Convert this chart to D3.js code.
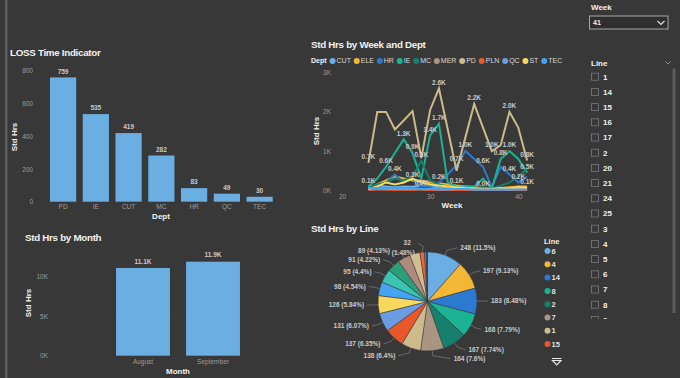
<!DOCTYPE html>
<html><head><meta charset="utf-8">
<script src="https://cdn.jsdelivr.net/npm/d3@7/dist/d3.min.js"></script>
<style>
html,body{margin:0;padding:0;background:#383838;overflow:hidden}
svg{display:block;font-family:"Liberation Sans",Arial,sans-serif}
</style></head><body>
<svg id="c" width="680" height="378"></svg>
<script>
// ---------- DATA ----------
const lossDepts = ["PD","IE","CUT","MC","HR","QC","TEC"];
const lossHours = [759,535,419,282,83,49,30];
const lossTicks = [0,200,400,600,800];

const months = ["August","September"];
const monthHours = [11100,11900];
const monthTicks = [0,5000,10000];

const weeks = [23,24,25,26,27,28,29,30,31,32,33,34,35,36,37,38,39,40,41];
const deptNames = ["CUT","ELE","HR","IE","MC","MER","PD","PLN","QC","ST","TEC"];
const cutHrs = [100,120,100,80,100,90,120,100,80,70,60,50,50,40,40,40,50,60,60];
const eleHrs = [50,150,250,350,300,250,250,200,180,150,120,100,80,60,50,60,80,100,100];
const hrHrs  = [100,120,200,400,200,300,100,100,200,400,650,1000,800,600,80,600,400,200,350];
const ieHrs  = [100,300,600,950,1300,950,300,1400,1700,200,100,100,100,300,50,800,1000,800,450];
const mcHrs  = [50,150,200,300,250,350,750,250,150,100,60,60,50,80,50,120,200,350,550];
const merHrs = [20,30,20,30,20,20,20,10,10,20,10,10,10,10,10,10,10,10,10];
const pdHrs  = [700,2000,2000,1550,1780,2020,820,2050,2600,1550,500,1350,2200,1600,1000,1150,2000,1600,760];
const plnHrs = [10,20,20,10,20,10,30,10,10,10,10,10,10,10,10,10,10,10,10];
const qcHrs  = [40,50,30,30,40,30,30,30,20,20,30,30,20,20,20,20,20,30,30];
const stHrs  = [30,100,200,150,200,300,200,150,120,100,80,60,50,40,40,50,40,80,60];
const tecHrs = [60,50,60,70,50,60,40,30,40,30,30,30,20,20,20,20,20,20,20];
const weekTicks = [20,30,40];
const weekHrsTicks = [0,1000,2000,3000];
// points that carry a data label: [dept, week]
const weekLabelPoints = [["PD",23],["PD",31],["PD",35],["PD",37],["PD",39],["PD",41],
  ["IE",25],["IE",27],["IE",28],["IE",30],["IE",31],["IE",33],["IE",38],["IE",39],["IE",41],
  ["HR",26],["HR",31],["HR",33],["HR",34],["HR",36],["HR",39],["HR",40],
  ["MC",29],["ELE",28],["CUT",23],["TEC",29],["QC",36],["CUT",41]];

const pieLines = ["6","4","14","8","2","7","1","15","16","3","5","9","17","20","21","24","25","18"];
const pieHours = [248,197,183,168,167,164,138,137,131,126,98,95,91,89,72,32,12,9];
const pieLegendCount = 8;
const pieUnlabeled = ["21","25","18"];

const slicerWeek = "41";
const slicerLines = ["1","14","15","16","17","2","20","21","24","25","3","4","5","6","7","8","9"];

// ---------- STYLE ----------
const palette = ["#6aaee4","#f3b733","#2c7ad0","#1cb394","#177f6d","#a99581","#cdbb8c","#e8582a",
                 "#6b9be3","#f8d95d","#45a4f2","#3cc4b3","#2b9e7c","#b08a7d","#cfbe91","#e9692f","#6a8fd8","#2c5c9c"];
const barColor = "#6aaee2";
const tickColor = "#9d9d9d";
const labelColor = "#c9c9c9";
const titleColor = "#f2f2f2";
const gridColor = "#474747";

const svg = d3.select("#c");
svg.append("rect").attr("width",680).attr("height",378).attr("fill","#383838");
svg.append("rect").attr("x",5).attr("y",0).attr("width",2.5).attr("height",378).attr("fill","#5e5e5e");

function title(x,y,t){
  svg.append("text").attr("x",x).attr("y",y).attr("dy","0.35em").attr("fill",titleColor)
    .attr("font-size",9.8).attr("font-weight","bold").attr("letter-spacing",-0.3).text(t);
}
function axisTitle(x,y,t,rot){
  const tx = svg.append("text").attr("fill",titleColor).attr("font-size",8).attr("font-weight","bold")
    .attr("text-anchor","middle").attr("dy","0.35em").text(t);
  if(rot) tx.attr("transform",`translate(${x},${y}) rotate(-90)`); else tx.attr("x",x).attr("y",y);
}
function styleAxis(g){
  g.select(".domain").remove();
  g.selectAll(".tick line").remove();
  g.selectAll("text").attr("fill",tickColor).attr("font-size",6.5).attr("font-family","Liberation Sans, Arial, sans-serif");
}

// ---------- PANEL 1: LOSS Time Indicator ----------
title(10,53,"LOSS Time Indicator");
const x1 = d3.scaleBand().domain(lossDepts).range([46.7,276]).paddingInner(0.2).paddingOuter(0.1);
const y1 = d3.scaleLinear().domain([0,800]).range([201.7,70.7]);
svg.append("g").selectAll("line").data(lossTicks.slice(1)).join("line")
  .attr("x1",38).attr("x2",284).attr("y1",d=>y1(d)).attr("y2",d=>y1(d))
  .attr("stroke",gridColor).attr("stroke-width",0.6).attr("stroke-dasharray","1,1.5");
svg.append("g").attr("transform","translate(33,0)")
  .call(d3.axisLeft(y1).tickValues(lossTicks).tickSize(0).tickPadding(0)).call(styleAxis);
svg.append("g").attr("transform","translate(0,204)")
  .call(d3.axisBottom(x1).tickSize(0).tickPadding(0)).call(styleAxis);
svg.append("g").selectAll("rect").data(lossDepts).join("rect")
  .attr("x",d=>x1(d)).attr("width",x1.bandwidth())
  .attr("y",(d,i)=>y1(lossHours[i])).attr("height",(d,i)=>y1(0)-y1(lossHours[i])).attr("fill",barColor);
svg.append("g").selectAll("text").data(lossDepts).join("text")
  .attr("x",d=>x1(d)+x1.bandwidth()/2).attr("y",(d,i)=>y1(lossHours[i])-6).attr("dy","0.35em")
  .attr("text-anchor","middle").attr("fill",labelColor).attr("font-size",6.5).attr("font-weight","bold")
  .text((d,i)=>lossHours[i]);
axisTitle(14,137,"Std Hrs",true);
axisTitle(161,216,"Dept",false);

// ---------- PANEL 2: Std Hrs by Month ----------
title(25,238,"Std Hrs by Month");
const x2 = d3.scaleBand().domain(months).range([108,248]).paddingInner(0.23).paddingOuter(0.115);
const y2 = d3.scaleLinear().domain([0,10000]).range([355.7,276.7]);
const kfmt = v => (v/1000)+"K";
svg.append("g").selectAll("line").data(monthTicks.slice(1)).join("line")
  .attr("x1",52).attr("x2",285).attr("y1",d=>y2(d)).attr("y2",d=>y2(d))
  .attr("stroke",gridColor).attr("stroke-width",0.6).attr("stroke-dasharray","1,1.5");
svg.append("g").attr("transform","translate(48,0)")
  .call(d3.axisLeft(y2).tickValues(monthTicks).tickFormat(kfmt).tickSize(0).tickPadding(0)).call(styleAxis);
svg.append("g").attr("transform","translate(0,359)")
  .call(d3.axisBottom(x2).tickSize(0).tickPadding(0)).call(styleAxis);
svg.append("g").selectAll("rect").data(months).join("rect")
  .attr("x",d=>x2(d)).attr("width",x2.bandwidth())
  .attr("y",(d,i)=>y2(monthHours[i])).attr("height",(d,i)=>y2(0)-y2(monthHours[i])).attr("fill",barColor);
svg.append("g").selectAll("text").data(months).join("text")
  .attr("x",d=>x2(d)+x2.bandwidth()/2).attr("y",(d,i)=>y2(monthHours[i])-6.5).attr("dy","0.35em")
  .attr("text-anchor","middle").attr("fill",labelColor).attr("font-size",6.5).attr("font-weight","bold")
  .text((d,i)=>d3.format(".1f")(monthHours[i]/1000)+"K");
axisTitle(28,303,"Std Hrs",true);
axisTitle(178,371,"Month",false);

// ---------- PANEL 3: Std Hrs by Week and Dept ----------
title(311,45,"Std Hrs by Week and Dept");
const deptSeries = [cutHrs,eleHrs,hrHrs,ieHrs,mcHrs,merHrs,pdHrs,plnHrs,qcHrs,stHrs,tecHrs];
const x3 = d3.scaleLinear().domain([20,42]).range([342,535.9]);
const y3 = d3.scaleLinear().domain([0,3000]).range([190.3,72.7]);
svg.append("g").selectAll("line").data(weekHrsTicks.slice(1)).join("line")
  .attr("x1",334).attr("x2",540).attr("y1",d=>y3(d)).attr("y2",d=>y3(d))
  .attr("stroke",gridColor).attr("stroke-width",0.6).attr("stroke-dasharray","1,1.5");
svg.append("g").attr("transform","translate(331,0)")
  .call(d3.axisLeft(y3).tickValues(weekHrsTicks).tickFormat(kfmt).tickSize(0).tickPadding(0)).call(styleAxis);
svg.append("g").attr("transform","translate(0,194)")
  .call(d3.axisBottom(x3).tickValues(weekTicks).tickFormat(d3.format("d")).tickSize(0).tickPadding(0)).call(styleAxis);
const line3 = d3.line().x((d,i)=>x3(weeks[i])).y(d=>y3(d));
svg.append("g").selectAll("path").data(deptSeries).join("path")
  .attr("d",d=>line3(d)).attr("fill","none").attr("stroke",(d,i)=>palette[i])
  .attr("stroke-width",2).attr("stroke-linejoin","miter");
svg.append("g").selectAll("text").data(weekLabelPoints).join("text")
  .attr("x",d=>x3(d[1])).attr("y",d=>y3(deptSeries[deptNames.indexOf(d[0])][weeks.indexOf(d[1])])-6)
  .attr("dy","0.35em").attr("text-anchor","middle").attr("fill",labelColor)
  .attr("font-size",6.5).attr("font-weight","bold")
  .text(d=>d3.format(".1f")(deptSeries[deptNames.indexOf(d[0])][weeks.indexOf(d[1])]/1000)+"K");
axisTitle(316,131,"Std Hrs",true);
axisTitle(452,205,"Week",false);
// legend
const lg = svg.append("g");
const lgT = lg.append("text").attr("x",311).attr("y",61).attr("dy","0.35em").attr("fill",titleColor)
  .attr("font-size",7).attr("font-weight","bold").text("Dept");
let cur = 311 + lgT.node().getComputedTextLength() + 2.5;
deptNames.forEach((n,i)=>{
  lg.append("circle").attr("cx",cur+3.5).attr("cy",61).attr("r",3).attr("fill",palette[i]);
  const t = lg.append("text").attr("x",cur+7.5).attr("y",61).attr("dy","0.35em").attr("fill","#d8d8d8")
    .attr("font-size",7).text(n);
  cur += 7.5 + t.node().getComputedTextLength() + 2.3;
});

// ---------- PANEL 4: Std Hrs by Line (pie) ----------
title(311,229,"Std Hrs by Line");
const cx = 427.5, cy = 301.5, r = 49.5;
const pieData = d3.pie().sort(null).value(d=>d)(pieHours);
const arc = d3.arc().innerRadius(0).outerRadius(r);
const pg = svg.append("g").attr("transform",`translate(${cx},${cy})`);
pg.selectAll("path").data(pieData).join("path").attr("d",arc)
  .attr("fill",(d,i)=>palette[i]).attr("stroke","#383838").attr("stroke-width",0.5);
const total = d3.sum(pieHours);
const pfmt = d3.format(".3~p");
pieData.forEach((d,i)=>{
  if(pieUnlabeled.includes(pieLines[i])) return;
  const a = (d.startAngle+d.endAngle)/2;
  const s = Math.sin(a), c = Math.cos(a);
  const ex = r*s, ey = -r*c;
  const txt = pieHours[i]+" ("+pfmt(pieHours[i]/total)+")";
  if(c > 0.98){
    pg.append("polyline").attr("points",`${ex},${ey} ${ex+1},${ey-6} ${ex-4},${ey-9}`)
      .attr("fill","none").attr("stroke","#8a8a8a").attr("stroke-width",0.6);
    const tt = pg.append("text").attr("text-anchor","middle").attr("fill",labelColor)
      .attr("font-size",6.5).attr("font-weight","bold");
    tt.append("tspan").attr("x",ex-15).attr("y",ey-10).attr("dy","0.35em").text(pieHours[i]);
    tt.append("tspan").attr("x",ex-19).attr("y",ey+0.5).attr("dy","0.35em").text("("+pfmt(pieHours[i]/total)+")");
    return;
  }
  const ly = -(r+8)*c;
  const R = r+13;
  const dx = Math.max(Math.sqrt(Math.max(0,R*R-ly*ly)), Math.abs((r+6)*s)+6);
  const side = s>=0?1:-1;
  const lx = side*dx;
  const bx = (r+5)*s, by = -(r+5)*c;
  pg.append("polyline").attr("points",`${ex},${ey} ${bx},${by} ${lx-side*2},${ly}`)
    .attr("fill","none").attr("stroke","#8a8a8a").attr("stroke-width",0.6);
  pg.append("text").attr("x",lx+side*1).attr("y",ly).attr("dy","0.35em")
    .attr("text-anchor",side>0?"start":"end").attr("fill",labelColor)
    .attr("font-size",6.5).attr("font-weight","bold").text(txt);
});
// pie legend
svg.append("text").attr("x",544).attr("y",241).attr("dy","0.35em").attr("fill",titleColor)
  .attr("font-size",7.5).attr("font-weight","bold").text("Line");
pieLines.slice(0,pieLegendCount).forEach((n,i)=>{
  const yy = 251 + i*13.3;
  svg.append("circle").attr("cx",547.5).attr("cy",yy).attr("r",3).attr("fill",palette[i]);
  svg.append("text").attr("x",551.5).attr("y",yy).attr("dy","0.35em").attr("fill","#e0e0e0")
    .attr("font-size",7.5).attr("font-weight","bold").text(n);
});
svg.append("path").attr("d","M552,358.5 L561.5,358.5 M552.5,360.5 L561,360.5 L556.75,365 Z")
  .attr("fill","none").attr("stroke","#e8e8e8").attr("stroke-width",1.2);

// ---------- SLICERS ----------
svg.append("text").attr("x",591).attr("y",7).attr("dy","0.35em").attr("fill",titleColor)
  .attr("font-size",8).attr("font-weight","bold").text("Week");
svg.append("rect").attr("x",589.5).attr("y",16).attr("width",78.5).attr("height",13)
  .attr("fill","#2f2f2f").attr("stroke","#a8a8a8").attr("stroke-width",1);
svg.append("text").attr("x",593).attr("y",22.8).attr("dy","0.35em").attr("fill","#f0f0f0")
  .attr("font-size",7).attr("font-weight","bold").text(slicerWeek);
svg.append("path").attr("d","M657.5,21 L661,24.5 L664.5,21").attr("fill","none").attr("stroke","#e0e0e0").attr("stroke-width",1.2);
svg.append("text").attr("x",591).attr("y",63).attr("dy","0.35em").attr("fill",titleColor)
  .attr("font-size",8).attr("font-weight","bold").text("Line");
svg.append("path").attr("d","M665.5,61.5 L668,64 L670.5,61.5").attr("fill","none").attr("stroke","#9a9a9a").attr("stroke-width",0.9);
svg.append("rect").attr("x",672.5).attr("y",68.5).attr("width",3).attr("height",244.5).attr("fill","#5c5c5c");
const sl = svg.append("g");
sl.append("clipPath").attr("id","slclip").append("rect").attr("x",585).attr("y",68).attr("width",85).attr("height",251);
const items = sl.append("g").attr("clip-path","url(#slclip)");
slicerLines.forEach((n,i)=>{
  const yy = 76.7 + i*15.2;
  items.append("rect").attr("x",591.5).attr("y",yy-3.5).attr("width",7).attr("height",7)
    .attr("fill","none").attr("stroke","#7a7a7a").attr("stroke-width",0.8);
  items.append("text").attr("x",603).attr("y",yy).attr("dy","0.35em").attr("fill","#f0f0f0")
    .attr("font-size",8).attr("font-weight","bold").text(n);
});
</script>
</body></html>
